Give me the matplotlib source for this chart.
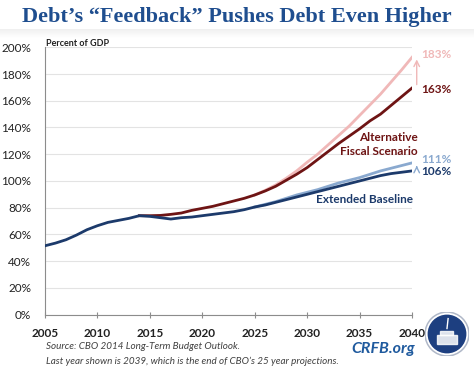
import numpy as np
import matplotlib
matplotlib.use('Agg')
import matplotlib.pyplot as plt
from matplotlib.patches import Circle

# 데이터 (그림에서 읽은 값, % of GDP)
years = list(range(2005, 2041))
baseline = [51.5, 53.5, 56, 59.5, 63.5, 66.5, 69, 70.5, 72, 74,
            73.5, 72.5, 71.5, 72.5, 73, 74, 75, 76, 77, 78.5,
            80.5, 82, 84, 86, 88, 90, 92, 94, 96, 98,
            100, 102, 104, 105.5, 106.5, 107.5]
alt_years = list(range(2014, 2041))
alternative = [74, 74, 74.2, 75, 76, 78, 79.5, 81, 83, 85, 87,
               89.5, 92.5, 96, 100.5, 105, 110, 116, 122, 128, 133.5,
               139, 145, 150, 156.5, 163, 169.5]
fb_years = list(range(2025, 2041))
baseline_fb = [80.5, 82.5, 84.5, 87, 89.5, 91.5, 93.5, 96, 98.5, 100.5,
               102.5, 105, 107.5, 109.5, 111.5, 113.5]
alternative_fb = [89.5, 93, 97, 102, 107.5, 114, 120, 127, 134, 141,
                  149, 157, 165, 174, 183, 192.5]
end_labels = ['183%', '163%', '111%', '106%']

navy = '#1c3a6b'
lightblue = '#8aa9cf'
darkred = '#6e1414'
pink = '#f0b8b8'

fig = plt.figure(figsize=(4.74, 3.69), dpi=100)
ax = fig.add_axes([45/474, 1 - 314.6/369, 367/474, (314.6 - 47.3)/369])

# 제목 아래 그라데이션
bg = fig.add_axes([0, 1 - 38/369, 1, 9/369])
bg.imshow(np.linspace(1, 0, 20).reshape(-1, 1), cmap='Greys', vmin=0, vmax=8,
          aspect='auto', extent=[0, 1, 0, 1])
bg.axis('off')

fig.text(0.5, 1 - 17/369, 'Debt\u2019s \u201cFeedback\u201d Pushes Debt Even Higher',
         ha='center', va='center', fontsize=16, fontweight='bold',
         family='Liberation Serif', color='#1f4e8f')

ax.plot(fb_years, alternative_fb, color=pink, lw=2, zorder=3)
ax.plot(alt_years, alternative, color=darkred, lw=2, zorder=4)
ax.plot(fb_years, baseline_fb, color=lightblue, lw=2, zorder=3)
ax.plot(years, baseline, color=navy, lw=2, zorder=4)

ax.set_xlim(2005, 2040)
ax.set_ylim(0, 200)
ax.set_xticks(range(2005, 2041, 5))
ax.set_yticks(range(0, 201, 20))
ax.set_yticklabels([f'{v}%' for v in range(0, 201, 20)])
ax.grid(axis='y', color='#e3e3e3', lw=0.8)
ax.set_axisbelow(True)
for s in ['top', 'right']:
    ax.spines[s].set_visible(False)
for s in ['left', 'bottom']:
    ax.spines[s].set_color('#8c8c8c')
ax.tick_params(axis='y', length=0, pad=10, labelsize=8.5, labelcolor='#222222')
ax.tick_params(axis='x', direction='inout', length=4, color='#8c8c8c', pad=8,
               labelsize=8.5, labelcolor='#222222')
for lab in ax.get_xticklabels() + ax.get_yticklabels():
    lab.set_family('Lato')
for lab in ax.get_xticklabels():
    lab.set_fontweight('bold')

fig.text(46/474, 1 - 43/369, 'Percent of GDP', fontsize=6.5, fontweight='bold',
         family='Lato', color='#222222', va='center')

# 화살표
ax.annotate('', xy=(2040.45, 193), xytext=(2040.45, 170),
            arrowprops=dict(arrowstyle='->', color=pink, lw=1), annotation_clip=False)
ax.annotate('', xy=(2040.45, 113.5), xytext=(2040.45, 108),
            arrowprops=dict(arrowstyle='->', color=lightblue, lw=1), annotation_clip=False)

lab_kw = dict(fontsize=8.5, fontweight='bold', family='Lato', va='center', clip_on=False)
ax.text(2040.9, 194.3, end_labels[0], color=pink, **lab_kw)
ax.text(2040.9, 168.6, end_labels[1], color=darkred, **lab_kw)
ax.text(2040.9, 115.7, end_labels[2], color=lightblue, **lab_kw)
ax.text(2040.9, 107, end_labels[3], color=navy, **lab_kw)

ax.text(2040.55, 132.7, 'Alternative', color=darkred, ha='right', va='center',
        fontsize=8.5, fontweight='bold', family='Lato')
ax.text(2040.55, 122.2, 'Fiscal Scenario', color=darkred, ha='right', va='center',
        fontsize=8.5, fontweight='bold', family='Lato')
ax.text(2035.5, 85.8, 'Extended Baseline', color=navy, ha='center', va='center',
        fontsize=8.5, fontweight='bold', family='Lato')

fig.text(46/474, 1 - 346.7/369, 'Source: CBO 2014 Long-Term Budget Outlook.',
         fontsize=7.1, style='italic', family='Lato', color='#404040', va='center')
fig.text(46/474, 1 - 361.5/369,
         'Last year shown is 2039, which is the end of CBO\u2019s 25 year projections.',
         fontsize=7.1, style='italic', family='Lato', color='#404040', va='center')
fig.text(415/474, 1 - 349/369, 'CRFB.org', fontsize=11.5, fontweight='bold',
         style='italic', family='Lato', color='#1f5a9e', ha='right', va='center')

# 로고 (간단히 원)
logo = fig.add_axes([425/474, 1 - 356/369, 44/474, 44/369])
logo.set_xlim(-1, 1)
logo.set_ylim(-1, 1)
logo.set_aspect('equal')
logo.axis('off')
logo.add_patch(Circle((0, 0), 1, color='#b0b8c8'))
logo.add_patch(Circle((0, 0), 0.93, color='white'))
logo.add_patch(Circle((0, 0), 0.85, color='#1d3f80'))
logo.add_patch(plt.Rectangle((-0.45, -0.45), 0.9, 0.4, color='white', alpha=0.85))
logo.add_patch(plt.Rectangle((-0.3, -0.05), 0.55, 0.2, color='white', alpha=0.85))
logo.plot([0.0, 0.05], [0.25, 0.7], color='white', lw=1)

fig.savefig('out.png', dpi=100)
